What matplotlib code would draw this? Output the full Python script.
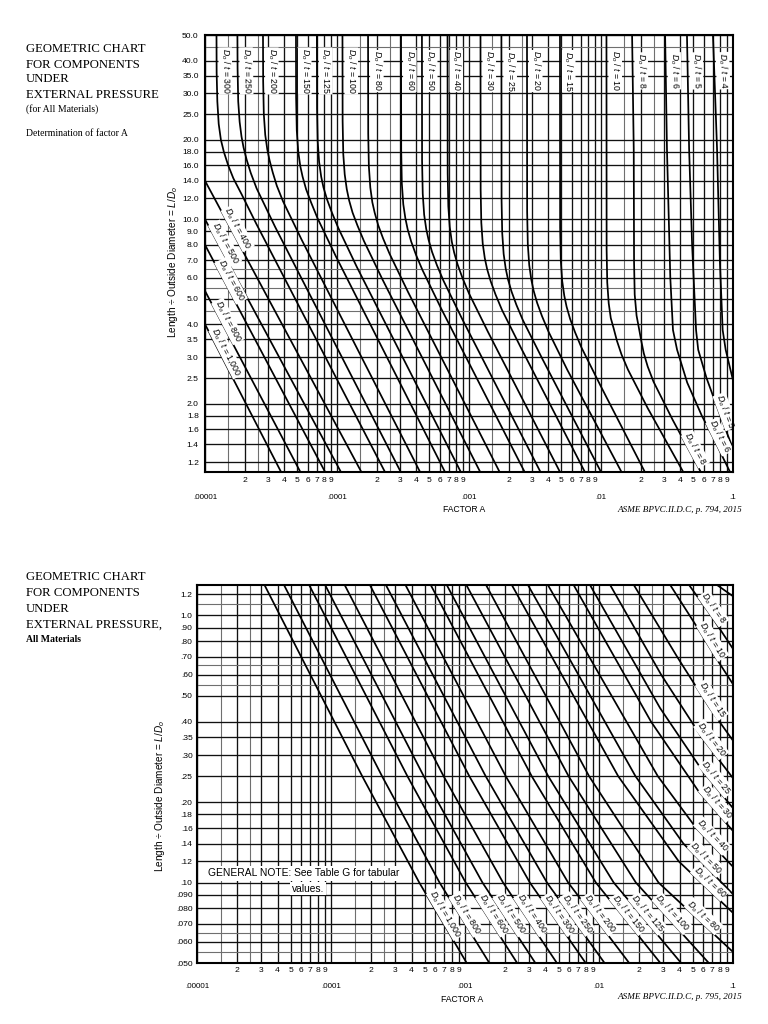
import numpy as np
import matplotlib
matplotlib.use("Agg")
import matplotlib.pyplot as plt
from matplotlib.ticker import FixedLocator, FixedFormatter, NullLocator

plt.rcParams["font.family"] = ["Liberation Sans", "DejaVu Sans"]
plt.rcParams["mathtext.fontset"] = "custom"
plt.rcParams["mathtext.rm"] = "Liberation Sans"
plt.rcParams["mathtext.it"] = "Liberation Sans:italic"

# ---------------------------------------------------------------------------
# Axis values
# ---------------------------------------------------------------------------

decades = [1e-5, 1e-4, 1e-3, 1e-2, 1e-1]
decade_labels = [".00001", ".0001", ".001", ".01", ".1"]
grid_steps = [1, 1.5, 2, 2.5, 3, 4, 5, 6, 7, 8, 9]

top_yticks = [50, 40, 35, 30, 25, 20, 18, 16, 14, 12, 10, 9, 8, 7, 6, 5, 4,
              3.5, 3, 2.5, 2, 1.8, 1.6, 1.4, 1.2]
top_ylabels = ["50.0", "40.0", "35.0", "30.0", "25.0", "20.0", "18.0", "16.0",
               "14.0", "12.0", "10.0", "9.0", "8.0", "7.0", "6.0", "5.0", "4.0",
               "3.5", "3.0", "2.5", "2.0", "1.8", "1.6", "1.4", "1.2"]
top_yextra = [45, 6.5, 5.5, 4.5]

bot_yticks = [1.2, 1.0, 0.9, 0.8, 0.7, 0.6, 0.5, 0.4, 0.35, 0.3, 0.25, 0.2,
              0.18, 0.16, 0.14, 0.12, 0.1, 0.09, 0.08, 0.07, 0.06, 0.05]
bot_ylabels = ["1.2", "1.0", ".90", ".80", ".70", ".60", ".50", ".40", ".35",
               ".30", ".25", ".20", ".18", ".16", ".14", ".12", ".10", ".090",
               ".080", ".070", ".060", ".050"]
bot_yextra = [1.1, 0.65, 0.55, 0.065, 0.055]

# ---------------------------------------------------------------------------
# Upper chart: curves with a vertical (long cylinder) part
# ---------------------------------------------------------------------------

top_dt = ["300", "250", "200", "150", "125", "100", "80", "60", "50", "40",
          "30", "25", "20", "15", "10", "8", "6", "5", "4"]
top_ld = [
    [50, 36, 28, 23, 20, 18, 16, 14.3, 12.4, 9.6, 1.1],
    [50, 37.4, 28.0, 23.4, 20.6, 18.7, 16.8, 15.0, 13.1, 9.35, 1.1],
    [50, 33.4, 25.1, 20.9, 18.4, 16.7, 15.05, 13.4, 11.7, 8.36, 1.1],
    [50, 29.0, 21.7, 18.1, 15.9, 14.5, 13.0, 11.6, 10.1, 7.24, 1.1],
    [50, 26.4, 19.8, 16.5, 14.5, 13.2, 11.9, 10.6, 9.25, 6.6, 1.1],
    [50, 23.6, 17.7, 14.8, 13.0, 11.8, 10.6, 9.46, 8.27, 5.91, 1.1],
    [50, 21.1, 15.9, 13.2, 11.6, 10.6, 9.51, 8.46, 7.4, 5.28, 1.1],
    [50, 18.3, 13.7, 11.4, 10.1, 9.16, 8.24, 7.32, 6.41, 4.58, 1.1],
    [50, 16.7, 12.5, 10.4, 9.19, 8.36, 7.52, 6.69, 5.85, 4.18, 1.1],
    [50, 14.95, 11.2, 9.35, 8.22, 7.48, 6.73, 5.98, 5.23, 3.74, 1.1],
    [50, 12.95, 9.71, 8.09, 7.12, 6.47, 5.83, 5.18, 4.53, 3.24, 1.1],
    [50, 11.8, 8.87, 7.39, 6.5, 5.91, 5.32, 4.73, 4.14, 2.96, 1.1],
    [50, 10.7, 8.04, 6.7, 5.9, 5.36, 4.82, 4.29, 3.75, 2.68, 1.1],
    [50, 9.32, 6.99, 5.83, 5.13, 4.66, 4.19, 3.73, 3.26, 2.33, 1.1],
    [50, 7.68, 5.76, 4.8, 4.22, 3.84, 3.46, 3.07, 2.69, 1.92, 1.1],
    [50, 18.5, 6.9, 5.18, 4.31, 3.8, 3.45, 3.1, 2.76, 2.42, 1.73, 1.1],
    [50, 18.5, 6.0, 3.8, 3.2, 2.4, 1.8, 1.5, 1.1],
    [50, 18.5, 8.0, 3.8, 3.2, 2.5, 1.8, 1.35],
    [50, 18.5, 7.0, 3.8, 3.2, 2.45],
]
top_a = [
    [1.222e-5, 1.225e-5, 1.24e-5, 1.27e-5, 1.32e-5, 1.39e-5, 1.5e-5, 1.64e-5, 1.9e-5, 2.45e-5, 2.31e-4],
    [1.76e-5, 1.765e-5, 1.785e-5, 1.83e-5, 1.89e-5, 1.96e-5, 2.07e-5, 2.22e-5, 2.46e-5, 3.4e-5, 3.04e-4],
    [2.75e-5, 2.758e-5, 2.789e-5, 2.86e-5, 2.964e-5, 3.087e-5, 3.26e-5, 3.5e-5, 3.9e-5, 5.4e-5, 4.26e-4],
    [4.889e-5, 4.9e-5, 4.958e-5, 5.084e-5, 5.27e-5, 5.488e-5, 5.833e-5, 6.355e-5, 7.114e-5, 9.8e-5, 6.58e-4],
    [7.04e-5, 7.06e-5, 7.14e-5, 7.32e-5, 7.59e-5, 7.9e-5, 8.4e-5, 9.15e-5, 1.0245e-4, 1.412e-4, 8.67e-4],
    [1.1e-4, 1.103e-4, 1.1155e-4, 1.144e-4, 1.186e-4, 1.235e-4, 1.312e-4, 1.43e-4, 1.6e-4, 2.211e-4, 1.216e-3],
    [1.719e-4, 1.724e-4, 1.743e-4, 1.788e-4, 1.852e-4, 1.929e-4, 2.05e-4, 2.234e-4, 2.501e-4, 3.464e-4, 1.706e-3],
    [3.056e-4, 3.065e-4, 3.098e-4, 3.178e-4, 3.294e-4, 3.43e-4, 3.645e-4, 3.971e-4, 4.447e-4, 6.161e-4, 2.64e-3],
    [4.4e-4, 4.41e-4, 4.462e-4, 4.574e-4, 4.741e-4, 4.939e-4, 5.249e-4, 5.718e-4, 6.403e-4, 8.89e-4, 3.48e-3],
    [6.875e-4, 6.893e-4, 6.972e-4, 7.147e-4, 7.408e-4, 7.717e-4, 8.202e-4, 8.934e-4, 1.0005e-3, 1.392e-3, 4.89e-3],
    [1.222e-3, 1.2254e-3, 1.2394e-3, 1.2705e-3, 1.317e-3, 1.372e-3, 1.458e-3, 1.589e-3, 1.778e-3, 2.486e-3, 7.55e-3],
    [1.76e-3, 1.765e-3, 1.785e-3, 1.83e-3, 1.897e-3, 1.975e-3, 2.1e-3, 2.288e-3, 2.561e-3, 3.589e-3, 1.0e-2],
    [2.75e-3, 2.757e-3, 2.789e-3, 2.86e-3, 2.965e-3, 3.087e-3, 3.281e-3, 3.574e-3, 4.0e-3, 5.565e-3, 1.43e-2],
    [4.889e-3, 4.902e-3, 4.958e-3, 5.083e-3, 5.27e-3, 5.488e-3, 5.833e-3, 6.355e-3, 7.115e-3, 9.95e-3, 2.15e-2],
    [1.1e-2, 1.103e-2, 1.115e-2, 1.144e-2, 1.186e-2, 1.25e-2, 1.32e-2, 1.43e-2, 1.6e-2, 2.26e-2, 4.2e-2],
    [1.72e-2, 1.77e-2, 1.78e-2, 1.8e-2, 1.86e-2, 1.95e-2, 2.02e-2, 2.11e-2, 2.26e-2, 2.5e-2, 3.5e-2, 5.7e-2],
    [3.06e-2, 3.16e-2, 3.35e-2, 3.51e-2, 3.77e-2, 4.5e-2, 5.8e-2, 7.0e-2, 9.5e-2],
    [4.48e-2, 4.65e-2, 4.9e-2, 5.25e-2, 5.45e-2, 6.3e-2, 8.0e-2, 0.1],
    [7.05e-2, 7.57e-2, 7.95e-2, 8.35e-2, 8.8e-2, 0.1],
]

# Upper chart: thin-wall lines that enter from the left edge
top_diag_dt = ["400", "500", "600", "800", "1,000"]
top_diag_ld = [[14.0, 1.1], [10.0, 1.1], [8.0, 1.1], [5.35, 1.1], [4.0, 1.1]]
top_diag_a = [[1e-5, 1.53e-4], [1e-5, 1.071e-4], [1e-5, 8.13e-5],
              [1e-5, 5.28e-5], [1e-5, 3.77e-5]]

# ---------------------------------------------------------------------------
# Lower chart: short-cylinder lines, L/Do 1.3 .. 0.05
# ---------------------------------------------------------------------------

bot_dt = ["1,000", "800", "600", "500", "400", "300", "250", "200", "150", "125",
          "100", "80", "60", "50", "40", "30", "25", "20", "15", "10", "8", "6"]
bot_ld = [
    [1.3, 0.25, 0.1, 0.05],
    [1.3, 0.25, 0.1, 0.05],
    [1.3, 0.25, 0.1, 0.05],
    [1.3, 0.25, 0.1, 0.05],
    [1.3, 0.25, 0.1, 0.05],
    [1.3, 0.25, 0.1, 0.05],
    [1.3, 0.25, 0.1, 0.05],
    [1.3, 0.25, 0.1, 0.05],
    [1.3, 0.25, 0.1, 0.05],
    [1.3, 0.25, 0.1, 0.05],
    [1.3, 0.25, 0.1, 0.05],
    [1.3, 0.25, 0.1, 0.055],
    [1.3, 0.25, 0.12, 0.077],
    [1.3, 0.25, 0.14, 0.0905],
    [1.3, 0.25, 0.16, 0.1146],
    [1.3, 0.4, 0.22, 0.156],
    [1.3, 0.45, 0.26, 0.19],
    [1.3, 0.6, 0.35, 0.246],
    [1.3, 0.7, 0.45, 0.34],
    [1.3, 0.9, 0.7, 0.553],
    [1.3, 1.0, 0.75],
    [1.3, 1.18],
]
bot_a = [
    [3.19e-5, 1.711e-4, 4.557e-4, 1.03e-3],
    [4.46e-5, 2.406e-4, 6.458e-4, 1.52e-3],
    [6.87e-5, 3.72e-4, 1.012e-3, 2.45e-3],
    [9.04e-5, 4.925e-4, 1.35e-3, 3.35e-3],
    [1.265e-4, 6.93e-4, 1.923e-3, 4.85e-3],
    [1.951e-4, 1.078e-3, 3.048e-3, 7.95e-3],
    [2.569e-4, 1.4275e-3, 4.091e-3, 1.10e-2],
    [3.596e-4, 2.015e-3, 5.886e-3, 1.68e-2],
    [5.551e-4, 3.149e-3, 9.474e-3, 2.87e-2],
    [7.31e-4, 4.184e-3, 1.287e-2, 4.10e-2],
    [1.024e-3, 5.936e-3, 1.884e-2, 6.60e-2],
    [1.436e-3, 8.44e-3, 2.781e-2, 0.1],
    [2.236e-3, 1.392e-2, 3.94e-2, 0.1],
    [2.95e-3, 1.873e-2, 4.26e-2, 0.1],
    [4.155e-3, 2.75e-2, 5.31e-2, 0.1],
    [6.468e-3, 2.447e-2, 5.52e-2, 0.1],
    [8.567e-3, 2.857e-2, 5.98e-2, 0.1],
    [1.211e-2, 2.91e-2, 5.83e-2, 0.1],
    [1.82e-2, 3.83e-2, 6.7e-2, 0.1],
    [3.4e-2, 5.424e-2, 7.37e-2, 0.1],
    [4.7e-2, 6.84e-2, 0.1],
    [7.6e-2, 0.1],
]

# where each curve label sits (L/Do along the curve)
top_label_ld = 36.5
top_diag_label_ld = [9.0, 7.9, 5.7, 4.0, 3.05]
top_thick_labels = {"8": 1.31, "6": 1.46, "5": 1.83}
bot_label_ld = [0.074] * 11 + [0.072, 0.0965, 0.119, 0.144, 0.192, 0.238,
                               0.332, 0.469, 0.784, 1.03, None]

DARK = "#111111"
LIGHT = "#6f6f6f"


# ---------------------------------------------------------------------------
# Helpers
# ---------------------------------------------------------------------------

def dt_text(v):
    return r"$D_o$ / $t$ = " + v


def on_curve(a, ld, at):
    la, ll = np.log10(a), np.log10(ld)
    order = np.argsort(ll)
    return 10 ** np.interp(np.log10(at), ll[order], la[order])


def label_curve(ax, a, ld, at, text, off=4.5, size=6.3):
    a0 = on_curve(a, ld, at)
    p1 = ax.transData.transform((on_curve(a, ld, at * 1.06), at * 1.06))
    p2 = ax.transData.transform((on_curve(a, ld, at / 1.06), at / 1.06))
    ang = np.degrees(np.arctan2(p2[1] - p1[1], p2[0] - p1[0]))
    rad = np.radians(ang)
    ax.annotate(text, (a0, at), xytext=(-np.sin(rad) * off, np.cos(rad) * off),
                textcoords="offset points", rotation=ang, rotation_mode="anchor",
                ha="center", va="center", fontsize=size, zorder=5,
                annotation_clip=False,
                bbox=dict(facecolor="white", edgecolor="none", pad=0.4))


def setup_axes(ax, ylim, yticks, ylabels, yextra, ypad, minor_pad, major_pad):
    ax.set_xscale("log")
    ax.set_yscale("log")
    ax.set_xlim(1e-5, 0.1)
    ax.set_ylim(*ylim)

    for d in decades[:-1]:
        for m in grid_steps:
            half = m in (1.5, 2.5)
            ax.axvline(m * d, color=LIGHT if half else DARK,
                       lw=0.8 if half else 0.95, zorder=1)
    for v in yticks:
        ax.axhline(v, color=DARK, lw=0.95, zorder=1)
    for v in yextra:
        ax.axhline(v, color=LIGHT, lw=0.8, zorder=1)

    ax.xaxis.set_major_locator(FixedLocator(decades))
    ax.xaxis.set_major_formatter(FixedFormatter(decade_labels))
    minors = [m * d for d in decades[:-1] for m in range(2, 10)]
    ax.xaxis.set_minor_locator(FixedLocator(minors))
    ax.xaxis.set_minor_formatter(
        FixedFormatter([str(m) for d in decades[:-1] for m in range(2, 10)]))
    ax.yaxis.set_major_locator(FixedLocator(yticks))
    ax.yaxis.set_major_formatter(FixedFormatter(ylabels))
    ax.yaxis.set_minor_locator(NullLocator())

    ax.tick_params(which="both", length=0, labelsize=6.1)
    ax.tick_params(axis="x", which="major", pad=major_pad, labelsize=5.8)
    ax.tick_params(axis="x", which="minor", pad=minor_pad)
    ax.tick_params(axis="y", pad=ypad)
    for s in ax.spines.values():
        s.set_linewidth(1.5)
        s.set_zorder(6)


# ---------------------------------------------------------------------------
# Figure
# ---------------------------------------------------------------------------

fig = plt.figure(figsize=(7.68, 10.24), dpi=100)
fig.patch.set_facecolor("white")

ax_top = fig.add_axes([205 / 768, 1 - 472 / 1024, 528 / 768, 437 / 1024])
ax_bot = fig.add_axes([197 / 768, 1 - 963 / 1024, 536 / 768, 378 / 1024])

setup_axes(ax_top, (1.1, 50), top_yticks, top_ylabels, top_yextra, 4.5, 3.8, 15.5)
setup_axes(ax_bot, (0.05, 1.3), bot_yticks, bot_ylabels, bot_yextra, 3.2, 3.0, 14.5)

# upper chart curves
for name, ld, a in zip(top_dt, top_ld, top_a):
    ax_top.plot(a, ld, color="black", lw=1.25, zorder=3)
    label_curve(ax_top, a, ld, top_label_ld, dt_text(name), off=6.3)
    if name in top_thick_labels:
        label_curve(ax_top, a, ld, top_thick_labels[name], dt_text(name), off=4.5)

for name, ld, a, at in zip(top_diag_dt, top_diag_ld, top_diag_a, top_diag_label_ld):
    ax_top.plot(a, ld, color="black", lw=1.25, zorder=3)
    label_curve(ax_top, a, ld, at, dt_text(name), off=4.5)

# lower chart lines
for name, ld, a, at in zip(bot_dt, bot_ld, bot_a, bot_label_ld):
    ax_bot.plot(a, ld, color="black", lw=1.25, zorder=3)
    if at is not None:
        label_curve(ax_bot, a, ld, at, dt_text(name), off=4.5)

ax_bot.text(1.2e-5, 0.1085, "GENERAL NOTE: See Table G for tabular",
            fontsize=7.4, ha="left", va="center", zorder=5,
            bbox=dict(facecolor="white", edgecolor="none", pad=1.8))
ax_bot.text(6.7e-5, 0.0950, "values.", fontsize=7.4, ha="center",
            va="center", zorder=5,
            bbox=dict(facecolor="white", edgecolor="none", pad=1.2))

# ---------------------------------------------------------------------------
# Surrounding text
# ---------------------------------------------------------------------------

serif = ["Liberation Serif", "DejaVu Serif"]


def px(x, y):
    return x / 768, 1 - y / 1024


for txt, y in [("GEOMETRIC CHART", 49), ("FOR COMPONENTS", 64.5),
               ("UNDER", 79.5), ("EXTERNAL PRESSURE", 94.5)]:
    fig.text(*px(26, y), txt, family=serif, fontsize=9.2, va="center")
fig.text(*px(26, 109.5), "(for All Materials)", family=serif, fontsize=7, va="center")
fig.text(*px(26, 133.5), "Determination of factor A", family=serif, fontsize=7,
         va="center")

for txt, y in [("GEOMETRIC CHART", 577), ("FOR COMPONENTS", 593),
               ("UNDER", 609), ("EXTERNAL PRESSURE,", 625)]:
    fig.text(*px(26, y), txt, family=serif, fontsize=9.2, va="center")
fig.text(*px(26, 640), "All Materials", family=serif, fontsize=7,
         fontweight="bold", va="center")

ylab = "Length \u00f7 Outside Diameter = $L/D_o$"
fig.text(*px(173, 262), ylab, rotation=90, fontsize=7.2, ha="center", va="center")
fig.text(*px(160, 796), ylab, rotation=90, fontsize=7.2, ha="center", va="center")

fig.text(*px(464, 510), "FACTOR A", fontsize=6.2, ha="center", va="center")
fig.text(*px(462, 1000), "FACTOR A", fontsize=6.2, ha="center", va="center")

fig.text(*px(742, 510), "ASME BPVC.II.D.C, p. 794, 2015", family=serif,
         style="italic", fontsize=6.6, ha="right", va="center")
fig.text(*px(742, 997), "ASME BPVC.II.D.C, p. 795, 2015", family=serif,
         style="italic", fontsize=6.6, ha="right", va="center")

fig.savefig("out.png", dpi=100, facecolor="white")
